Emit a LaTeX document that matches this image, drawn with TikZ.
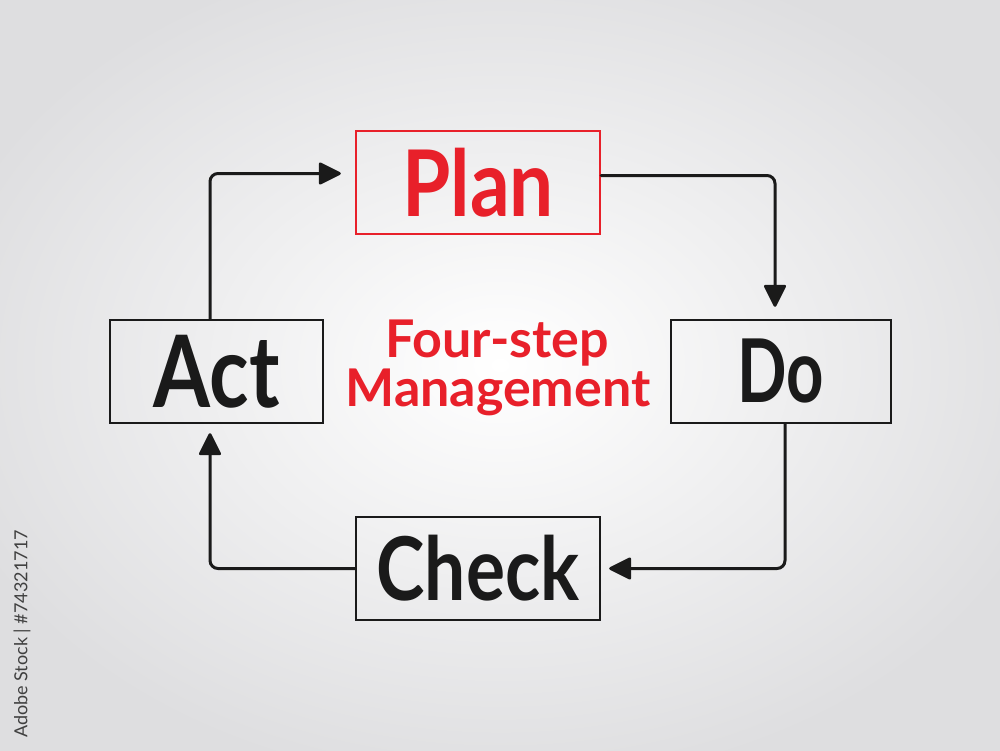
\documentclass[tikz,border=0pt]{standalone}
\usepackage{fontspec}
\setmainfont{Lato}
\usetikzlibrary{arrows.meta}
\definecolor{mred}{HTML}{E8202A}
\definecolor{ink}{HTML}{1A1A1A}
\definecolor{bgedge}{RGB}{222,222,224}
\newcommand{\lbl}[3]{\fontsize{#1}{#1}\selectfont\bfseries\scalebox{#2}[1]{#3}}
\begin{document}
\begin{tikzpicture}[x=1pt,y=-1pt,
  stepbox/.style={draw=ink,line width=2.4pt,minimum height=103pt,inner sep=0pt,text=ink},
  planbox/.style={stepbox,draw=mred,text=mred},
  conn/.style={draw=ink,line width=3pt,rounded corners=8pt,line cap=round,
    -{Triangle[length=24pt,width=23pt,round]}},
  title/.style={text=mred,font=\fontsize{52}{52}\selectfont\bfseries,inner sep=0pt}]
\useasboundingbox (0,0) rectangle (1000,750);
\path[shading=radial,inner color=white,outer color=bgedge] (-80,-60) rectangle (1080,790);

\node[planbox,minimum width=244pt] (plan) at (478,182.5) {\lbl{92}{0.85}{Plan}};
\node[stepbox,minimum width=213pt] (act) at (216.5,371.5) {\lbl{100}{0.82}{Act}};
\node[stepbox,minimum width=220pt] (do) at (781,371.5) {\lbl{88}{0.74}{Do}};
\node[stepbox,minimum width=244pt] (check) at (478,568.5) {\lbl{88}{0.83}{Check}};

\node[title] (t1) at (497,343) {Four-step};
\node[title] (t2) at (498,392) {Management};

\draw[conn] ([xshift=-6.5pt]act.north) |- ([shift={(-14pt,9pt)}]plan.west);
\draw[conn] ([yshift=7pt]plan.east) -| ([shift={(-6pt,12pt)}]do.north);
\draw[conn] ([xshift=4pt]do.south) |- ([xshift=8pt]check.east);
\draw[conn] (check.west) -| ([shift={(-6.5pt,-9pt)}]act.south);

\node[rotate=90,text=black!75,font=\fontsize{18}{18}\selectfont,inner sep=0pt] (wm) at (22,634) {Adobe Stock | \#74321717};
\end{tikzpicture}
\end{document}
